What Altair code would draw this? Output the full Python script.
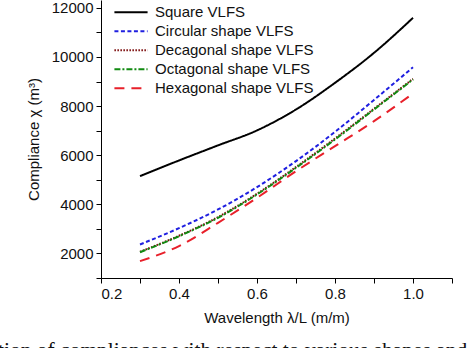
import altair as alt
import pandas as pd

wavelength = [0.3, 0.4, 0.5, 0.6, 0.7, 0.8, 0.9, 1.0]
square = [5148, 5786, 6400, 7010, 7862, 8947, 10168, 11593]
circular = [2366, 3030, 3790, 4700, 5760, 6950, 8250, 9580]
decagonal = [2068, 2720, 3480, 4430, 5520, 6680, 7890, 9110]
octagonal = [2050, 2700, 3452, 4402, 5487, 6640, 7862, 9083]
hexagonal = [1688, 2300, 3248, 4266, 5351, 6369, 7387, 8513]

names = ["Square VLFS", "Circular shape VLFS", "Decagonal shape VLFS",
         "Octagonal shape VLFS", "Hexagonal shape VLFS"]
series = [square, circular, decagonal, octagonal, hexagonal]
colors = ["#000000", "#1f1fe0", "#7a0a0a", "#118a11", "#e8202a"]
dashes = [[1, 0], [4, 2.5], [1.5, 1.5], [6, 2, 2, 2], [10, 7]]

rows = []
for n, s in zip(names, series):
    for x, y in zip(wavelength, s):
        rows.append({"x": x, "y": y, "s": n})
df = pd.DataFrame(rows)

font = "Liberation Sans"

lines = alt.Chart(df).mark_line(strokeWidth=2, interpolate="monotone").encode(
    x=alt.X("x:Q", scale=alt.Scale(domain=[0.2, 1.1], nice=False),
            axis=alt.Axis(values=[0.2, 0.3, 0.4, 0.5, 0.6, 0.7, 0.8, 0.9, 1.0, 1.1],
                          labelExpr="(round(datum.value*10) % 2 == 0 && datum.value < 1.05) ? format(datum.value, '.1f') : ''",
                          title="Wavelength λ/L (m/m)", grid=False,
                          domainColor="#000", tickColor="#000", tickSize=5,
                          labelFont=font, labelFontSize=15, labelColor="#111",
                          labelPadding=3, titleFont=font, titleFontSize=15,
                          titleFontWeight="normal", titleColor="#111", titlePadding=9)),
    y=alt.Y("y:Q", scale=alt.Scale(domain=[1000, 12320], nice=False),
            axis=alt.Axis(values=list(range(1000, 13000, 1000)),
                          labelExpr="(datum.value % 2000 == 0) ? datum.value : ''",
                          title="Compliance χ (m³)", grid=False,
                          domainColor="#000", tickColor="#000", tickSize=5,
                          labelFont=font, labelFontSize=15, labelColor="#111",
                          labelPadding=3, titleFont=font, titleFontSize=15,
                          titleFontWeight="normal", titleColor="#111", titlePadding=10)),
    color=alt.Color("s:N", sort=names,
                    scale=alt.Scale(domain=names, range=colors),
                    legend=alt.Legend(orient="none", legendX=12, legendY=3, title=None,
                                      labelFont=font, labelFontSize=15, labelColor="#111",
                                      symbolType="stroke", symbolSize=1100,
                                      symbolStrokeWidth=2, rowPadding=0, clipHeight=18.5,
                                      labelOffset=6)),
    strokeDash=alt.StrokeDash("s:N", sort=names,
                              scale=alt.Scale(domain=names, range=dashes),
                              legend=None),
)

caption = ["tion of compliances with respect to various shapes and"]
cap = alt.Chart(pd.DataFrame({"t": caption})).mark_text(
    font="Liberation Serif", fontSize=21.5, align="left", baseline="alphabetic",
    color="#111"
).encode(text="t:N", x=alt.value(-103), y=alt.value(357))

chart = alt.layer(lines, cap).properties(
    width=351, height=278,
    autosize=alt.AutoSizeParams(type="none"),
    padding={"left": 101, "top": 0, "right": 22, "bottom": 70},
).configure_view(stroke=None).configure_legend(symbolLimit=0)

chart.save("out.html", embed_options={"renderer": "svg", "actions": False})
